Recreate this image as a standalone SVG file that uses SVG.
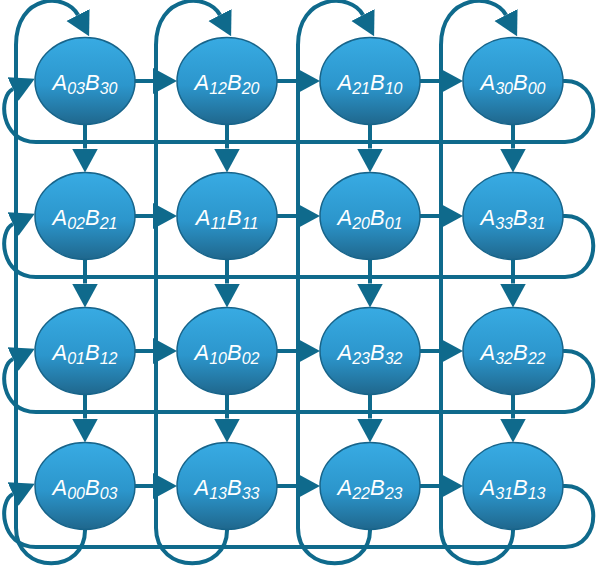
<svg xmlns="http://www.w3.org/2000/svg" width="600" height="569" viewBox="0 0 600 569">
<defs>
<linearGradient id="g" x1="0" y1="0" x2="0" y2="1">
<stop offset="0" stop-color="#38abe3"/>
<stop offset="0.55" stop-color="#2c96cc"/>
<stop offset="1" stop-color="#1f678d"/>
</linearGradient>
<marker id="ah" markerUnits="userSpaceOnUse" markerWidth="26" markerHeight="28" viewBox="0 -14 26 28" refX="0" refY="0" orient="auto">
<path d="M0,-13 L24,0 L0,13 Z" fill="#0f6a8c"/>
</marker>
<style>
.c{fill:none;stroke:#0f6a8c;stroke-width:4}
.a{marker-end:url(#ah)}
.n{fill:url(#g);stroke:#17648a;stroke-width:1.5}
.t{font-family:"Liberation Sans",Arial,sans-serif;font-style:italic;font-size:22px;fill:#ffffff;text-anchor:middle}
.s{font-size:16px}
</style>
</defs>
<g id="connectors">
<path class="c a" d="M85,528 C87,575 16,575 16,528 L16,45 C16,-6 66,-8 78,15"/>
<path class="c a" d="M227,528 C229,575 156,575 156,528 L156,45 C156,-6 208,-8 220,15"/>
<path class="c a" d="M370,528 C372,575 298,575 298,528 L298,45 C298,-6 351,-8 363,15"/>
<path class="c a" d="M513,528 C515,575 441,575 441,528 L441,45 C441,-6 494,-8 506,15"/>
<path class="c a" d="M563,81 C603,78 603,142 565,142 L36,142 C0,142 -2,96 13,89"/>
<path class="c a" d="M563,216 C603,213 603,277 565,277 L36,277 C0,277 -2,231 13,224"/>
<path class="c a" d="M563,351 C603,348 603,412 565,412 L36,412 C0,412 -2,366 13,359"/>
<path class="c a" d="M563,486 C603,483 603,547 565,547 L36,547 C0,547 -2,501 13,494"/>
<path class="c a" d="M135,81 L153,81"/>
<path class="c a" d="M277,81 L296,81"/>
<path class="c a" d="M420,81 L439,81"/>
<path class="c a" d="M135,216 L153,216"/>
<path class="c a" d="M277,216 L296,216"/>
<path class="c a" d="M420,216 L439,216"/>
<path class="c a" d="M135,351 L153,351"/>
<path class="c a" d="M277,351 L296,351"/>
<path class="c a" d="M420,351 L439,351"/>
<path class="c a" d="M135,486 L153,486"/>
<path class="c a" d="M277,486 L296,486"/>
<path class="c a" d="M420,486 L439,486"/>
<path class="c a" d="M85,124.5 L85,148.5"/>
<path class="c a" d="M85,259.5 L85,283.5"/>
<path class="c a" d="M85,394.5 L85,418.5"/>
<path class="c a" d="M227,124.5 L227,148.5"/>
<path class="c a" d="M227,259.5 L227,283.5"/>
<path class="c a" d="M227,394.5 L227,418.5"/>
<path class="c a" d="M370,124.5 L370,148.5"/>
<path class="c a" d="M370,259.5 L370,283.5"/>
<path class="c a" d="M370,394.5 L370,418.5"/>
<path class="c a" d="M513,124.5 L513,148.5"/>
<path class="c a" d="M513,259.5 L513,283.5"/>
<path class="c a" d="M513,394.5 L513,418.5"/>
</g>
<g id="n00"><ellipse class="n" cx="85" cy="81" rx="50" ry="43.5"/><text class="t" x="85" y="90">A<tspan class="s" dy="4">03</tspan><tspan dy="-4">B</tspan><tspan class="s" dy="4">30</tspan></text></g>
<g id="n01"><ellipse class="n" cx="227" cy="81" rx="50" ry="43.5"/><text class="t" x="227" y="90">A<tspan class="s" dy="4">12</tspan><tspan dy="-4">B</tspan><tspan class="s" dy="4">20</tspan></text></g>
<g id="n02"><ellipse class="n" cx="370" cy="81" rx="50" ry="43.5"/><text class="t" x="370" y="90">A<tspan class="s" dy="4">21</tspan><tspan dy="-4">B</tspan><tspan class="s" dy="4">10</tspan></text></g>
<g id="n03"><ellipse class="n" cx="513" cy="81" rx="50" ry="43.5"/><text class="t" x="513" y="90">A<tspan class="s" dy="4">30</tspan><tspan dy="-4">B</tspan><tspan class="s" dy="4">00</tspan></text></g>
<g id="n10"><ellipse class="n" cx="85" cy="216" rx="50" ry="43.5"/><text class="t" x="85" y="225">A<tspan class="s" dy="4">02</tspan><tspan dy="-4">B</tspan><tspan class="s" dy="4">21</tspan></text></g>
<g id="n11"><ellipse class="n" cx="227" cy="216" rx="50" ry="43.5"/><text class="t" x="227" y="225">A<tspan class="s" dy="4">11</tspan><tspan dy="-4">B</tspan><tspan class="s" dy="4">11</tspan></text></g>
<g id="n12"><ellipse class="n" cx="370" cy="216" rx="50" ry="43.5"/><text class="t" x="370" y="225">A<tspan class="s" dy="4">20</tspan><tspan dy="-4">B</tspan><tspan class="s" dy="4">01</tspan></text></g>
<g id="n13"><ellipse class="n" cx="513" cy="216" rx="50" ry="43.5"/><text class="t" x="513" y="225">A<tspan class="s" dy="4">33</tspan><tspan dy="-4">B</tspan><tspan class="s" dy="4">31</tspan></text></g>
<g id="n20"><ellipse class="n" cx="85" cy="351" rx="50" ry="43.5"/><text class="t" x="85" y="360">A<tspan class="s" dy="4">01</tspan><tspan dy="-4">B</tspan><tspan class="s" dy="4">12</tspan></text></g>
<g id="n21"><ellipse class="n" cx="227" cy="351" rx="50" ry="43.5"/><text class="t" x="227" y="360">A<tspan class="s" dy="4">10</tspan><tspan dy="-4">B</tspan><tspan class="s" dy="4">02</tspan></text></g>
<g id="n22"><ellipse class="n" cx="370" cy="351" rx="50" ry="43.5"/><text class="t" x="370" y="360">A<tspan class="s" dy="4">23</tspan><tspan dy="-4">B</tspan><tspan class="s" dy="4">32</tspan></text></g>
<g id="n23"><ellipse class="n" cx="513" cy="351" rx="50" ry="43.5"/><text class="t" x="513" y="360">A<tspan class="s" dy="4">32</tspan><tspan dy="-4">B</tspan><tspan class="s" dy="4">22</tspan></text></g>
<g id="n30"><ellipse class="n" cx="85" cy="486" rx="50" ry="43.5"/><text class="t" x="85" y="495">A<tspan class="s" dy="4">00</tspan><tspan dy="-4">B</tspan><tspan class="s" dy="4">03</tspan></text></g>
<g id="n31"><ellipse class="n" cx="227" cy="486" rx="50" ry="43.5"/><text class="t" x="227" y="495">A<tspan class="s" dy="4">13</tspan><tspan dy="-4">B</tspan><tspan class="s" dy="4">33</tspan></text></g>
<g id="n32"><ellipse class="n" cx="370" cy="486" rx="50" ry="43.5"/><text class="t" x="370" y="495">A<tspan class="s" dy="4">22</tspan><tspan dy="-4">B</tspan><tspan class="s" dy="4">23</tspan></text></g>
<g id="n33"><ellipse class="n" cx="513" cy="486" rx="50" ry="43.5"/><text class="t" x="513" y="495">A<tspan class="s" dy="4">31</tspan><tspan dy="-4">B</tspan><tspan class="s" dy="4">13</tspan></text></g>
</svg>
